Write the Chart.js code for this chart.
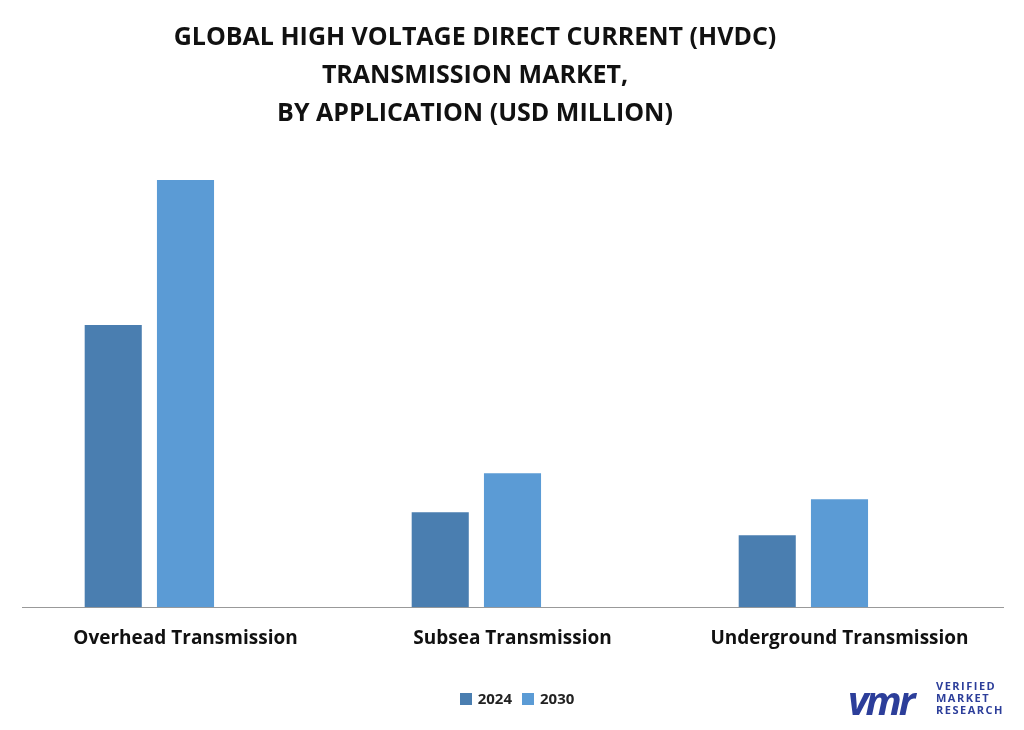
<!DOCTYPE html>
<html><head><meta charset="utf-8">
<script src="https://cdn.jsdelivr.net/npm/chart.js@4"></script>
<style>
body{margin:0;background:#fff;font-family:"Open Sans",sans-serif;}
#wrap{position:relative;width:1024px;height:730px;}
#title{position:absolute;left:0;width:950px;top:16px;text-align:center;font-weight:bold;font-size:25px;line-height:38px;color:#111;}
#legend{position:absolute;left:0;width:1024px;top:688px;text-align:center;font-weight:bold;font-size:15px;color:#222;}
#legend span.b{display:inline-block;width:12px;height:12px;margin:0 6px 0 10px;vertical-align:-1px}
#logo{position:absolute;left:848px;top:680px;font-weight:bold;color:#2f3a8f;}
#logo .v{font-size:40px;font-style:italic;position:absolute;left:0;top:-8px;color:#2c3e9a;letter-spacing:-3px}
#logo .t{position:absolute;left:88px;top:0;font-size:11px;line-height:12px;letter-spacing:1.5px;color:#2c3e9a}
</style></head><body>
<div id="wrap">
<canvas id="c" width="1024" height="730"></canvas>
<div id="title">GLOBAL HIGH VOLTAGE DIRECT CURRENT (HVDC)<br>TRANSMISSION MARKET,<br>BY APPLICATION (USD MILLION)</div>
<div id="legend"></div>
<div id="logo"><span class="v">vmr</span><span class="t">VERIFIED<br>MARKET<br>RESEARCH</span></div>
</div>
<script>
const categories=["Overhead Transmission","Subsea Transmission","Underground Transmission"];
const values2024=[282,95,72];
const values2030=[427,134,108];
const seriesNames=["2024","2030"];
const colors=['#4a7eb0','#5b9bd5'];
document.getElementById('legend').innerHTML=seriesNames.map((n,i)=>`<span class="b" style="background:${colors[i]}"></span>${n}`).join('');
const c=document.getElementById('c');
new Chart(c,{type:'bar',data:{labels:categories,datasets:[
{label:seriesNames[0],data:values2024,backgroundColor:colors[0]},
{label:seriesNames[1],data:values2030,backgroundColor:colors[1]},
{label:'',data:[null,null,null],backgroundColor:'rgba(0,0,0,0)'}]},
options:{responsive:false,animation:false,devicePixelRatio:1,
layout:{padding:{top:160,left:22,right:21,bottom:68}},
datasets:{bar:{categoryPercentage:0.663,barPercentage:0.79}},
plugins:{tooltip:{enabled:false},legend:{display:false}},
scales:{y:{display:false,min:0,max:447},
x:{grid:{display:false},border:{color:'#999'},ticks:{color:'#111',padding:12,font:{family:'Open Sans',weight:'bold',size:19}}}}}});
</script></body></html>
